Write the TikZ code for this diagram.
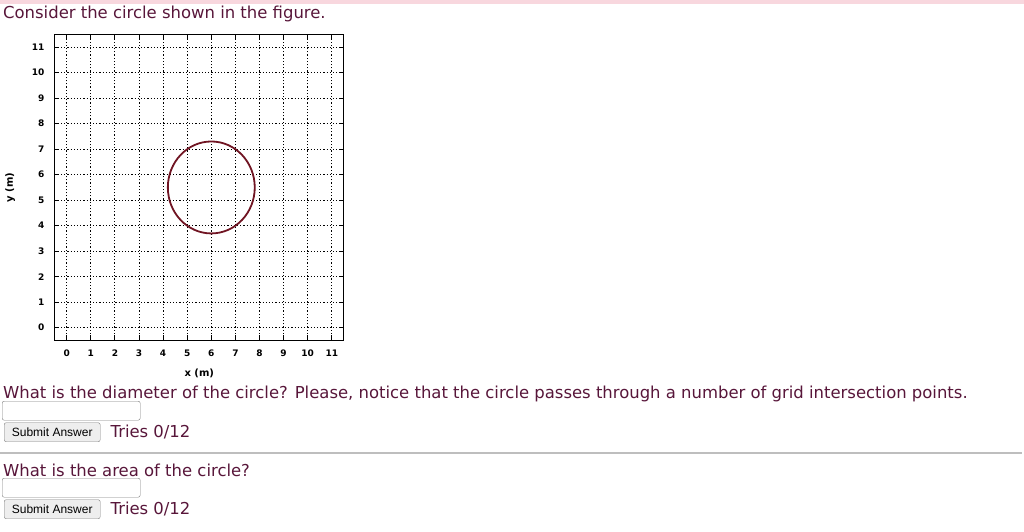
\documentclass[tikz,border=0pt]{standalone}
\usepackage{fontspec}
\setmainfont{DejaVu Sans}
\newfontfamily\btnfont{Liberation Sans}
\usetikzlibrary{positioning}

\definecolor{qtext}{RGB}{88,22,58}
\definecolor{ringred}{RGB}{112,20,34}
\definecolor{boxgray}{RGB}{125,125,125}
\definecolor{rulegray}{RGB}{190,190,190}
\definecolor{btnfill}{RGB}{238,238,238}
\definecolor{topband}{RGB}{248,215,222}

\tikzset{
    qline/.style={anchor=base west, inner sep=0pt, text=qtext, font=\fontsize{16.45}{18}\selectfont},
    inputbox/.style={draw=boxgray, fill=white, rounded corners=2pt, minimum width=138pt, minimum height=19pt, inner sep=0pt, anchor=north west},
    submitbtn/.style={draw=boxgray, fill=btnfill, rounded corners=2pt, minimum width=96pt, minimum height=19pt, inner sep=0pt, anchor=north west, font=\btnfont\fontsize{12}{14}\selectfont},
    ticklabel/.style={font=\bfseries\fontsize{9}{11}\selectfont, inner sep=0pt},
    axislabel/.style={font=\bfseries\fontsize{10}{12}\selectfont, inner sep=0pt},
    gridline/.style={dash pattern=on 1.2pt off 2pt, line width=1pt}
}

\begin{document}
\begin{tikzpicture}[x=1pt, y=-1pt]
    \useasboundingbox (0,0) rectangle (1024,531);
    \fill[topband] (0,0) rectangle (1024,4);

    \node[qline] at (3,18.5) (title) {Consider the circle shown in the figure.};

    \begin{scope}[shift={(66.7,327.7)}, x=24.1pt, y=25.5pt]
        \foreach \k in {0,...,11} {
            \draw[gridline] (\k,-0.5) -- (\k,11.5);
            \draw[gridline] (-0.5,\k) -- (11.5,\k);
            \draw[line width=0.9pt] (\k,-0.5) -- ++(0,0.2) (\k,11.5) -- ++(0,-0.2);
            \draw[line width=0.9pt] (-0.5,\k) -- ++(0.2,0) (11.5,\k) -- ++(-0.2,0);
            \node[ticklabel, anchor=east] at (-0.92,\k) (ylab\k) {\k};
            \node[ticklabel] at (\k,-0.99) (xlab\k) {\k};
        }
        \draw[line width=1pt] (-0.5,-0.5) rectangle (11.5,11.5);
        \draw[ringred, line width=1.8pt] (6,5.5) circle [radius=1.803];
        \node[axislabel] at (5.5,-1.78) (xaxis) {x (m)};
        \node[axislabel, rotate=90] at (-2.35,5.5) (yaxis) {y (m)};
    \end{scope}

    \node[qline] at (3,398) (qdiam) {What is the diameter of the circle? Please, notice that the circle passes through a number of grid intersection points.};
    \node[inputbox] at (2,401) (diambox) {};
    \node[submitbtn] at (4,422.5) (diamsubmit) {Submit Answer};
    \node[qline, right=10pt of diamsubmit] (diamtries) {Tries 0/12};

    \draw[rulegray, line width=1.5pt] (0,453) -- (1022,453);

    \node[qline] at (3,476) (qarea) {What is the area of the circle?};
    \node[inputbox] at (2,478) (areabox) {};
    \node[submitbtn] at (4,499.5) (areasubmit) {Submit Answer};
    \node[qline, right=10pt of areasubmit] (areatries) {Tries 0/12};
\end{tikzpicture}
\end{document}
